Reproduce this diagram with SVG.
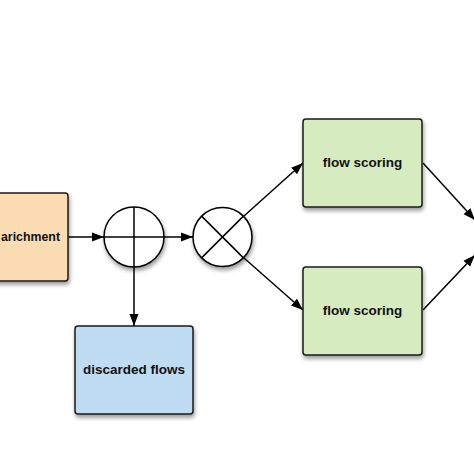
<svg xmlns="http://www.w3.org/2000/svg" width="474" height="474" viewBox="0 0 474 474">
<style>
.box{stroke:#1a1a1a;stroke-width:1.5;filter:url(#sh)}
.lbl{font-family:"Liberation Sans",Arial,sans-serif;font-weight:bold;font-size:13.5px;fill:#111;text-anchor:middle}
.ln{stroke:#000;stroke-width:1.5;fill:none}
.arr{marker-end:url(#ah)}
.op{fill:#fff;stroke:#000;stroke-width:1.5;filter:url(#sh)}
</style>
<defs>
<filter id="sh" x="-20%" y="-20%" width="150%" height="150%">
<feGaussianBlur in="SourceAlpha" stdDeviation="2"/>
<feOffset dx="1" dy="3" result="b"/>
<feComponentTransfer><feFuncA type="linear" slope="0.4"/></feComponentTransfer>
<feMerge><feMergeNode/><feMergeNode in="SourceGraphic"/></feMerge>
</filter>
<marker id="ah" viewBox="0 0 12 10" refX="12" refY="5" markerWidth="12" markerHeight="10" markerUnits="userSpaceOnUse" orient="auto">
<path d="M0,0.5 L12,5 L0,9.5 z" fill="#000"/>
</marker>
</defs>
<rect width="474" height="474" fill="#fff"/>
<g id="connectors">
<line class="ln arr" x1="68" y1="237" x2="104" y2="237"/>
<line class="ln arr" x1="164" y1="237" x2="193" y2="237"/>
<line class="ln arr" x1="134" y1="267" x2="134" y2="326"/>
<line class="ln arr" x1="244" y1="216" x2="303" y2="163"/>
<line class="ln arr" x1="244" y1="258" x2="303" y2="310"/>
<line class="ln arr" x1="423" y1="163" x2="475" y2="220"/>
<line class="ln arr" x1="423" y1="310" x2="475" y2="255"/>
</g>
<g id="enrichment">
<rect class="box" x="-10" y="193" width="78" height="88" rx="3" fill="#fcdcb2"/>
<text class="lbl" x="1" y="241" style="text-anchor:start" textLength="59" lengthAdjust="spacingAndGlyphs">arichment</text>
</g>
<g id="split">
<circle class="op" cx="134" cy="237" r="30"/>
<line class="ln" x1="104" y1="237" x2="164" y2="237"/>
<line class="ln" x1="134" y1="207" x2="134" y2="267"/>
</g>
<g id="mux">
<circle class="op" cx="222.5" cy="237" r="29.5"/>
<line class="ln" x1="201.6" y1="216.1" x2="243.4" y2="257.9"/>
<line class="ln" x1="201.6" y1="257.9" x2="243.4" y2="216.1"/>
</g>
<g id="discarded">
<rect class="box" x="75" y="326" width="118" height="88" rx="3" fill="#bfdcf3"/>
<text class="lbl" x="134" y="374">discarded flows</text>
</g>
<g id="scoring1">
<rect class="box" x="303" y="119" width="119" height="88" rx="3" fill="#d6ebbf"/>
<text class="lbl" x="362.5" y="167">flow scoring</text>
</g>
<g id="scoring2">
<rect class="box" x="303" y="267" width="119" height="88" rx="3" fill="#d6ebbf"/>
<text class="lbl" x="362.5" y="315">flow scoring</text>
</g>
</svg>
